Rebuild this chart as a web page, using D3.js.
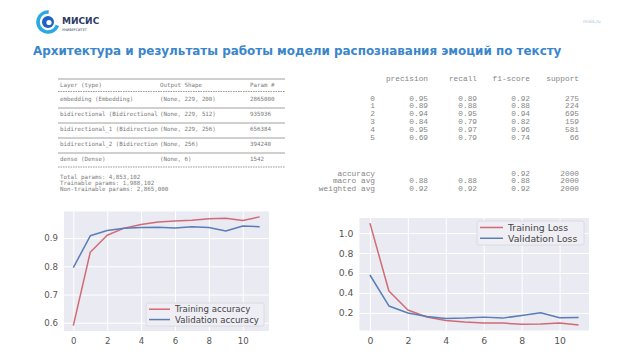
<!DOCTYPE html>
<html>
<head>
<meta charset="utf-8">
<script src="https://cdn.jsdelivr.net/npm/d3@7"></script>
<style>
  body { margin: 0; background: #fff; }
  svg { display: block; }
</style>
</head>
<body>
<div id="slide"></div>
<script>
// --- data ---
const title = "Архитектура и результаты работы модели распознавания эмоций по тексту"

const layerNames = ["embedding (Embedding)", "bidirectional (Bidirectional", "bidirectional_1 (Bidirection",
  "bidirectional_2 (Bidirection", "dense (Dense)"]
const layerShapes = ["(None, 229, 200)", "(None, 229, 512)", "(None, 229, 256)", "(None, 256)", "(None, 6)"]
const layerParams = ["2865000", "935936", "656384", "394240", "1542"]
const paramTotals = ["Total params: 4,853,102", "Trainable params: 1,988,102", "Non-trainable params: 2,865,000"]

const reportCols = ["precision", "recall", "f1-score", "support"]
const classes = ["0", "1", "2", "3", "4", "5"]
const precision = ["0.95", "0.89", "0.94", "0.84", "0.95", "0.69"]
const recall = ["0.89", "0.88", "0.95", "0.79", "0.97", "0.79"]
const f1 = ["0.92", "0.88", "0.94", "0.82", "0.96", "0.74"]
const support = ["275", "224", "695", "159", "581", "66"]
const summaryRows = [
  ["accuracy", "", "", "0.92", "2000"],
  ["macro avg", "0.88", "0.88", "0.88", "2000"],
  ["weighted avg", "0.92", "0.92", "0.92", "2000"]
]

const epochs = d3.range(12)
const trainAcc = [0.59, 0.85, 0.91, 0.935, 0.948, 0.957, 0.96, 0.963, 0.968, 0.97, 0.962, 0.975]
const valAcc = [0.795, 0.908, 0.927, 0.935, 0.937, 0.938, 0.936, 0.94, 0.937, 0.925, 0.943, 0.94]
const trainLoss = [1.10, 0.42, 0.23, 0.16, 0.125, 0.108, 0.10, 0.098, 0.087, 0.088, 0.10, 0.078]
const valLoss = [0.58, 0.27, 0.20, 0.165, 0.145, 0.148, 0.158, 0.148, 0.175, 0.202, 0.152, 0.155]
const xTicks = [0, 2, 4, 6, 8, 10]
const accTicks = [0.6, 0.7, 0.8, 0.9]
const lossTicks = [0.2, 0.4, 0.6, 0.8, 1.0]

const width = 638, height = 359
const red = "#d06b74", blue = "#5b7db5"

const svg = d3.select("#slide").append("svg")
  .attr("width", width)
  .attr("height", height)
svg.append("rect").attr("width", width).attr("height", height).attr("fill", "#fff")

// --- header: logo, site, title ---
const logo = svg.append("g").attr("transform", "translate(48,22)")
logo.append("circle").attr("r", 10).attr("fill", "none")
  .attr("stroke", "#28a9e6").attr("stroke-width", 3.5)
  .attr("stroke-dasharray", "44 19").attr("transform", "rotate(20)")
logo.append("circle").attr("r", 6).attr("fill", "#1f62c4")
logo.append("circle").attr("r", 2.6).attr("cx", 1).attr("cy", 0.5).attr("fill", "#fff")
svg.append("text").attr("x", 62).attr("y", 24)
  .attr("font-family", "DejaVu Sans").attr("font-weight", "bold").attr("font-size", 9)
  .attr("fill", "#2d3b66").text("МИСИС")
svg.append("text").attr("x", 62).attr("y", 30.5)
  .attr("font-family", "DejaVu Sans").attr("font-size", 3.4)
  .attr("fill", "#2d3b66").text("УНИВЕРСИТЕТ")
svg.append("text").attr("x", 583).attr("y", 23)
  .attr("font-family", "DejaVu Sans").attr("font-size", 4.5)
  .attr("fill", "#9dbde2").text("misis.ru")

const titleText = svg.append("text").attr("x", 33).attr("y", 55)
  .attr("font-family", "DejaVu Sans").attr("font-weight", "bold").attr("font-size", 13)
  .attr("fill", "#3a86cb").text(title)
const tw = titleText.node().getComputedTextLength()
titleText.attr("font-size", 13 * 529 / tw)

// --- model summary table ---
const mono = "DejaVu Sans Mono"
const gray = "#7a7a7a"
const tbl = svg.append("g").attr("font-family", mono).attr("font-size", 5.8).attr("fill", gray)
const colX = [60, 160, 250]
const tblL = 58, tblR = 285
tbl.append("line").attr("x1", tblL).attr("x2", tblR).attr("y1", 79).attr("y2", 79)
  .attr("stroke", "#888").attr("stroke-width", 0.8)
;["Layer (type)", "Output Shape", "Param #"].forEach((h, i) =>
  tbl.append("text").attr("x", colX[i]).attr("y", 85).attr("dy", "0.35em").text(h))
const eqLine = y => tbl.append("line").attr("x1", tblL).attr("x2", tblR).attr("y1", y).attr("y2", y)
  .attr("stroke", "#999").attr("stroke-width", 1).attr("stroke-dasharray", "1.6 0.9")
eqLine(91.5)
const rowY = d3.scalePoint().domain(d3.range(layerNames.length)).range([99, 159])
layerNames.forEach((name, i) => {
  const y = rowY(i)
  tbl.append("text").attr("x", colX[0]).attr("y", y).attr("dy", "0.35em").text(name)
  tbl.append("text").attr("x", colX[1]).attr("y", y).attr("dy", "0.35em").text(layerShapes[i])
  tbl.append("text").attr("x", colX[2]).attr("y", y).attr("dy", "0.35em").text(layerParams[i])
  if (i < layerNames.length - 1) {
    tbl.append("line").attr("x1", tblL).attr("x2", tblR).attr("y1", y + 9).attr("y2", y + 9)
      .attr("stroke", "#888").attr("stroke-width", 0.8)
  }
})
eqLine(167)
paramTotals.forEach((t, i) =>
  tbl.append("text").attr("x", colX[0]).attr("y", 177 + i * 6).attr("dy", "0.35em").text(t))

// --- classification report ---
const rep = svg.append("g").attr("font-family", "Liberation Mono").attr("font-size", 7.8)
  .attr("fill", "#868686").attr("text-anchor", "end")
const repX = [375, 428, 477, 530, 579]
reportCols.forEach((c, i) =>
  rep.append("text").attr("x", repX[i + 1]).attr("y", 78).attr("dy", "0.35em").text(c))
const clsY = d3.scalePoint().domain(classes).range([98, 137])
classes.forEach((c, i) => {
  const vals = [c, precision[i], recall[i], f1[i], support[i]]
  vals.forEach((v, j) =>
    rep.append("text").attr("x", repX[j]).attr("y", clsY(c)).attr("dy", "0.33em").text(v))
})
summaryRows.forEach((row, i) => {
  row.forEach((v, j) =>
    rep.append("text").attr("x", repX[j]).attr("y", 173 + i * 7.6).attr("dy", "0.33em").text(v))
})

// --- training curves ---
function curveChart(opts) {
  const {box, yDomain, yTicks, series, legend, fontSize} = opts
  const g = svg.append("g")
  const x = d3.scaleLinear().domain([-0.55, 11.55]).range([box.left, box.right])
  const y = d3.scaleLinear().domain(yDomain).range([box.bottom, box.top])

  g.append("rect")
    .attr("x", box.left).attr("y", box.top)
    .attr("width", box.right - box.left).attr("height", box.bottom - box.top)
    .attr("fill", "#eaeaf2")

  const xAxis = g.append("g")
    .attr("transform", `translate(0,${box.bottom})`)
    .call(d3.axisBottom(x).tickValues(xTicks).tickSize(-(box.bottom - box.top)).tickPadding(7))
  const yAxis = g.append("g")
    .attr("transform", `translate(${box.left},0)`)
    .call(d3.axisLeft(y).tickValues(yTicks).tickFormat(d3.format(".1f"))
      .tickSize(-(box.right - box.left)).tickPadding(6))
  ;[xAxis, yAxis].forEach(a => {
    a.select(".domain").remove()
    a.selectAll(".tick line").attr("stroke", "#fff").attr("stroke-width", 1)
    a.selectAll(".tick text").attr("fill", "#555")
      .attr("font-family", "DejaVu Sans").attr("font-size", fontSize)
  })

  const line = d3.line().x((d, i) => x(epochs[i])).y(d => y(d))
  series.forEach(s => {
    g.append("path").datum(s.values)
      .attr("fill", "none").attr("stroke", s.color).attr("stroke-width", 1.5)
      .attr("stroke-linejoin", "round").attr("d", line)
  })

  const lg = g.append("g")
  lg.append("rect")
    .attr("x", legend.x).attr("y", legend.y).attr("width", legend.w).attr("height", legend.h)
    .attr("rx", 2).attr("fill", "#eeeef4").attr("stroke", "#d6d6de").attr("stroke-width", 0.8)
  series.forEach((s, i) => {
    const ly = legend.y + legend.h * (i === 0 ? 0.27 : 0.72)
    lg.append("line")
      .attr("x1", legend.x + 3).attr("x2", legend.x + legend.line)
      .attr("y1", ly).attr("y2", ly)
      .attr("stroke", s.color).attr("stroke-width", 1.5)
    lg.append("text")
      .attr("x", legend.x + legend.line + 5).attr("y", ly).attr("dy", "0.35em")
      .attr("font-family", "DejaVu Sans").attr("font-size", fontSize).attr("fill", "#444")
      .text(s.label)
  })
}

curveChart({
  box: {left: 64, right: 269, top: 211.5, bottom: 331},
  yDomain: [0.571, 0.994],
  yTicks: accTicks,
  fontSize: 8.6,
  series: [
    {label: "Training accuracy", values: trainAcc, color: red},
    {label: "Validation accuracy", values: valAcc, color: blue}
  ],
  legend: {x: 146, y: 303, w: 118, h: 23, line: 24}
})

curveChart({
  box: {left: 359.5, right: 589, top: 218, bottom: 330.5},
  yDomain: [0.024, 1.151],
  yTicks: lossTicks,
  fontSize: 9.3,
  series: [
    {label: "Training Loss", values: trainLoss, color: red},
    {label: "Validation Loss", values: valLoss, color: blue}
  ],
  legend: {x: 477, y: 221, w: 107, h: 24, line: 26}
})
</script>
</body>
</html>
